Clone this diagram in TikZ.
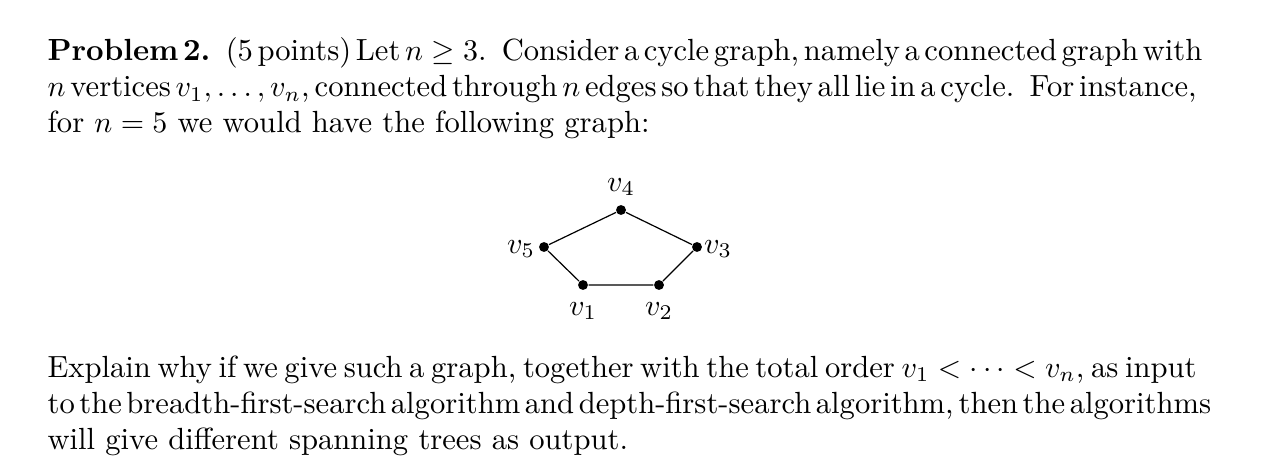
\documentclass[tikz,border=0pt]{standalone}
\usepackage{amsmath}
\newcommand{\fl}[1]{\makebox[383pt][s]{\spaceskip=0.2em plus 1em minus 0.05em #1}\\}
\begin{document}
\begin{tikzpicture}[x=0.33333pt,y=-0.33333pt,
  txt/.style={anchor=north west,inner sep=0pt,text width=383pt,align=left,font=\fontsize{10.2}{12}\selectfont},
  vtx/.style={circle,fill=black,inner sep=0pt,minimum size=3.3pt},
  lbl/.style={inner sep=0pt,font=\fontsize{10.2}{12}\selectfont}]
\useasboundingbox (0,0) rectangle (1272,476);
\node[txt] (p1) at (47,37) {\fl{\textbf{Problem 2.} (5 points) Let $n\geq 3$. Consider a cycle graph, namely a connected graph with}\fl{$n$ vertices $v_1,\ldots,v_n$, connected through $n$ edges so that they all lie in a cycle. For instance,}for $n=5$ we would have the following graph:};
\node[vtx] (v4) at (621,210) {};
\node[vtx] (v3) at (697,247) {};
\node[vtx] (v2) at (659,285) {};
\node[vtx] (v1) at (583,285) {};
\node[vtx] (v5) at (544,247) {};
\draw[line width=0.4pt] (v1)--(v2)--(v3)--(v4)--(v5)--(v1);
\node[lbl] (l4) at (621,187) {$v_4$};
\node[lbl] (l3) at (718,249) {$v_3$};
\node[lbl] (l5) at (521,249) {$v_5$};
\node[lbl] (l1) at (583,311) {$v_1$};
\node[lbl] (l2) at (659,311) {$v_2$};
\node[txt] (p2) at (47,355) {\fl{Explain why if we give such a graph, together with the total order $v_1<\cdots<v_n$, as input}\fl{to the breadth-first-search algorithm and depth-first-search algorithm, then the algorithms}will give different spanning trees as output.};
\end{tikzpicture}
\end{document}
